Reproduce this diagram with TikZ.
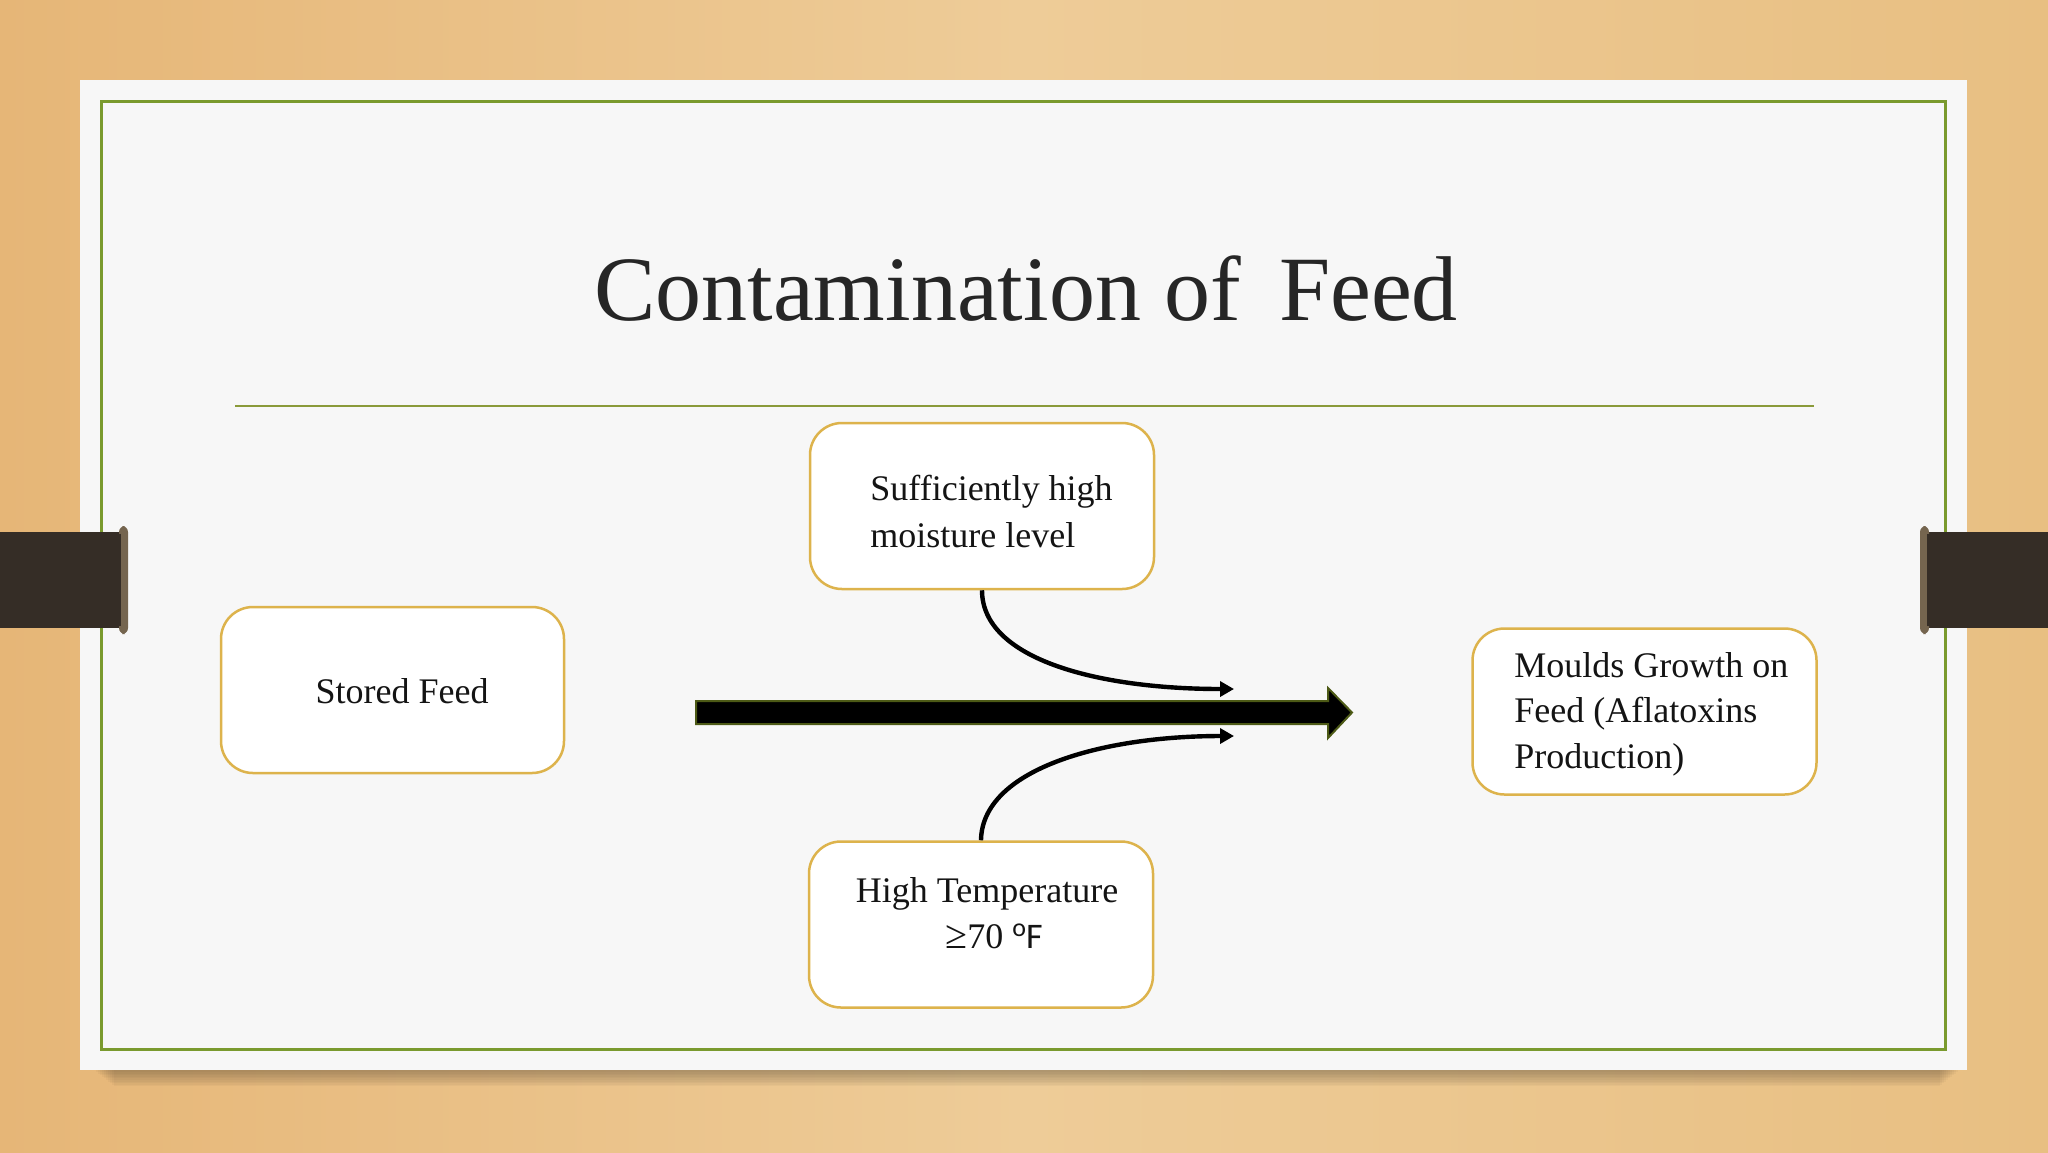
\documentclass[tikz,border=0pt]{standalone}
\usepackage{fontspec}
\setmainfont{Liberation Serif}
\newfontfamily\sansf{Carlito}
\usetikzlibrary{arrows.meta}
\definecolor{woodL}{HTML}{E6B677}
\definecolor{woodM}{HTML}{EECC98}
\definecolor{woodR}{HTML}{E8BF82}
\definecolor{paperc}{HTML}{F7F7F7}
\definecolor{greenc}{HTML}{7A9A2E}
\definecolor{rulec}{HTML}{8A9A3A}
\definecolor{boxc}{HTML}{DDB34C}
\definecolor{bandc}{HTML}{352D26}
\definecolor{tabc}{HTML}{75654F}
\definecolor{arrowedge}{HTML}{4D5A16}
\definecolor{titlec}{HTML}{262626}
\definecolor{shadowc}{HTML}{4A4030}
\tikzset{
  box/.style={draw=boxc, line width=1.25pt, fill=white, rounded corners=16pt,
    minimum width=172pt, minimum height=83pt, inner sep=0pt},
  txt/.style={inner sep=0pt, font=\fontsize{18}{23.5}\selectfont, text=black!92},
  curve/.style={line width=2.2pt, -{Triangle[length=7pt,width=7.5pt]}},
}
\begin{document}
\begin{tikzpicture}[x=0.5pt,y=-0.5pt]
\useasboundingbox (0,0) rectangle (2048,1152);
% wooden background
\shade[left color=woodL, right color=woodR, middle color=woodM] (0,0) rectangle (2048,1152);
% soft shadow under the paper
\foreach \i in {0,...,9} {
  \fill[shadowc, opacity=0.045] (96+2*\i,1068) rectangle (1958-2*\i,1072+1.6*\i);
}
% paper
\fill[paperc] (80,80) rectangle (1967,1070);
\draw[greenc, line width=1.5pt] (101,101) rectangle (1945,1049);
% bands
\fill[bandc] (0,532) rectangle (124,628);
\fill[tabc, rounded corners=3pt] (119,526) rectangle (128,634);
\fill[bandc] (0,534) rectangle (121,626);
\fill[bandc] (1924,532) rectangle (2048,628);
\fill[tabc, rounded corners=3pt] (1920,526) rectangle (1929,634);
\fill[bandc] (1927,534) rectangle (2048,626);
% title
\node[inner sep=0pt, anchor=base, text=titlec, font=\fontsize{46}{56}\selectfont] (title) at (1026,320) {Contamination of\, Feed};
\draw[rulec, line width=1pt] (235,406) -- (1814,406);
% boxes
\node[box, minimum width=171.5pt] (stored) at (392.5,690) {};
\node[box] (moist) at (982,506) {};
\node[box] (temp) at (981,924.5) {};
\node[box] (moulds) at (1644.5,711.5) {};
% texts
\node[txt, anchor=base] (t-stored) at (402,703) {Stored Feed};
\node[txt, anchor=base west] (t-m1) at (870,500) {Sufficiently high};
\node[txt, anchor=base west] (t-m2) at (870,547) {moisture level};
\node[txt, anchor=base] (t-t1) at (987,902) {High Temperature};
\node[txt, anchor=base] (t-t2) at (994,948) {{\fontsize{20}{23.5}\selectfont ≥}70 {\sansf\raisebox{0.33em}{\fontsize{13}{13}\selectfont o}F}};
\node[txt, anchor=base west] (t-g1) at (1514,677) {Moulds Growth on};
\node[txt, anchor=base west] (t-g2) at (1514,722) {Feed (Aflatoxins};
\node[txt, anchor=base west] (t-g3) at (1514,768) {Production)};
% main arrow
\filldraw[fill=black, draw=arrowedge, line width=1pt]
  (696,701) -- (1328,701) -- (1328,688) -- (1352,712.5) -- (1328,738) -- (1328,724) -- (696,724) -- cycle;
% curved arrows
\coordinate (e1) at (1234,689);
\coordinate (e2) at (1234,736);
\draw[curve] (moist.south) .. controls (982,660) and (1100,689) .. (e1);
\draw[curve] (temp.north) .. controls (982,770) and (1100,736) .. (e2);
\end{tikzpicture}
\end{document}
